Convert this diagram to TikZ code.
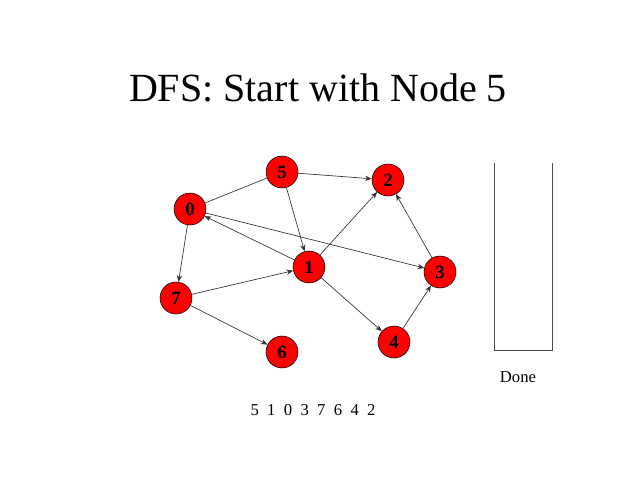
\documentclass[tikz,border=0pt]{standalone}
\usepackage{fontspec}
\setmainfont{Liberation Serif}
\usetikzlibrary{arrows.meta}
\begin{document}
\begin{tikzpicture}[x=0.75pt,y=-0.75pt,
  vert/.style={circle,draw=black,fill=red,minimum size=24pt,inner sep=0pt,font=\fontsize{14}{14}\selectfont\bfseries},
  edge/.style={draw=black!80,line width=0.5pt,-{Stealth[length=5pt,width=4pt]}},
  plain/.style={draw=black!80,line width=0.5pt}]
\useasboundingbox (0,0) rectangle (638,478);
\node[font=\fontsize{30}{30}\selectfont] (title) at (318,88) {DFS: Start with Node 5};
\node[vert] (n5) at (282,172) {5};
\node[vert] (n2) at (388,180) {2};
\node[vert] (n0) at (190,209) {0};
\node[vert] (n1) at (309,267) {1};
\node[vert] (n3) at (440,272) {3};
\node[vert] (n7) at (176,298) {7};
\node[vert] (n4) at (394,342) {4};
\node[vert] (n6) at (282,352) {6};
\draw[edge] (n5) -- (n2);
\draw[plain] (n5) -- (n0);
\draw[edge] (n5) -- (n1);
\draw[edge] (n0) -- (n3);
\draw[edge] (n1) -- (n0);
\draw[edge] (n1) -- (n2);
\draw[edge] (n0) -- (n7);
\draw[edge] (n7) -- (n1);
\draw[edge] (n7) -- (n6);
\draw[edge] (n1) -- (n4);
\draw[edge] (n4) -- (n3);
\draw[edge] (n3) -- (n2);
\coordinate (s1) at (494,163);
\coordinate (s2) at (494,350);
\coordinate (s3) at (552,350);
\coordinate (s4) at (552,163);
\draw[black!70,line width=0.6pt] (s1) -- (s2) -- (s3) -- (s4);
\node[font=\fontsize{12.5}{12.5}\selectfont] (done) at (518,377) {Done};
\node[font=\fontsize{12.5}{12.5}\selectfont] (seq) at (313,410) {5\ \ 1\ \ 0\ \ 3\ \ 7\ \ 6\ \ 4\ \ 2};
\end{tikzpicture}
\end{document}
